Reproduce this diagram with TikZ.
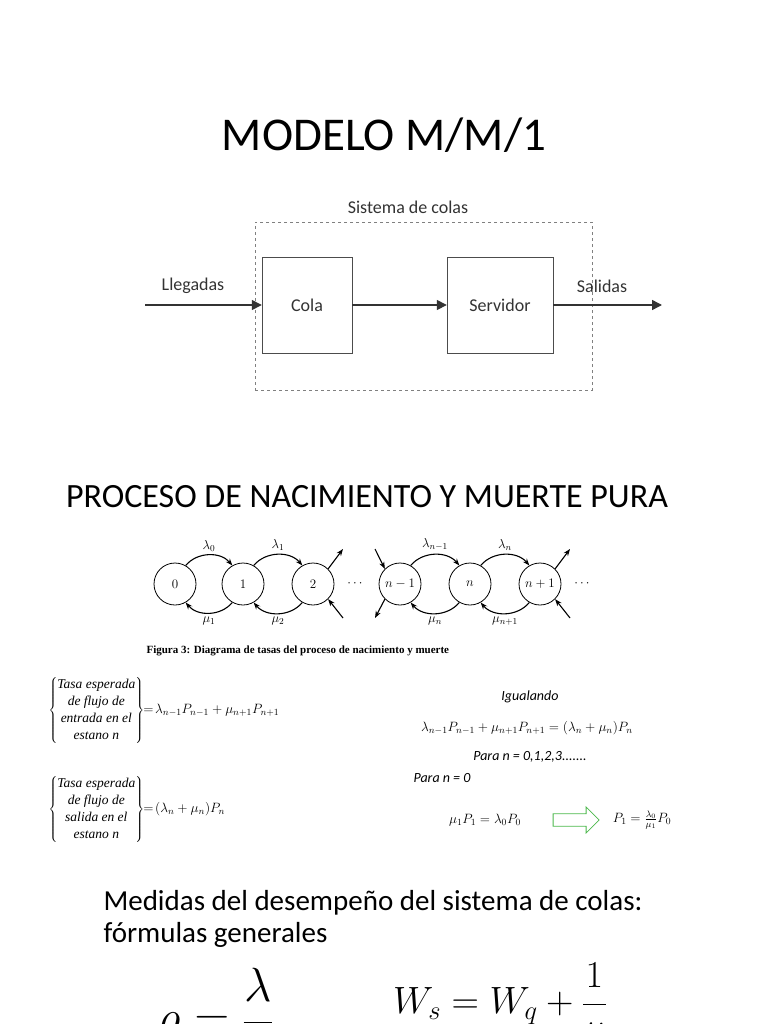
\RequirePackage{fix-cm}
\documentclass[tikz,border=0pt]{standalone}
\usepackage{fontspec}
\setmainfont{Carlito}
\newfontfamily\tnr{Liberation Serif}
\newcommand{\bt}[1]{\mbox{\tnr\itshape #1}}
\usetikzlibrary{arrows.meta,shapes.arrows}
\begin{document}
\begin{tikzpicture}[x=1pt,y=-1pt,
  blk/.style={draw=black!70,fill=white,minimum width=#1,minimum height=96pt,inner sep=0pt},
  flow/.style={-{Triangle[length=10pt,width=10pt]},line width=1.5pt,black!80},
  st/.style={circle,draw,line width=0.8pt,minimum size=42pt,inner sep=0pt,font=\fontsize{13}{15}\selectfont},
  arc/.style={-{Stealth[length=7pt]},line width=1.1pt},
  lbl/.style={font=\fontsize{13}{15}\selectfont},
  lab/.style={font=\fontsize{18}{20}\selectfont\color{black!80}},
  it/.style={font=\fontsize{14}{16}\selectfont\itshape},
  mth/.style={font=\fontsize{13.5}{18}\selectfont}]
\useasboundingbox (0,0) rectangle (768,1024);
\node (title) at (384,135) {\fontsize{47}{52}\selectfont MODELO M/M/1};
% queue system
\node[draw=black!50,dashed,minimum width=337pt,minimum height=168pt] (sys) at (423.5,306) {};
\node[lab] (syst) at (408,207) {Sistema de colas};
\node[blk=90pt,lab] (cola) at (307,305) {Cola};
\node[blk=106pt,lab] (serv) at (500,305) {Servidor};
\coordinate (in) at (145,305);
\coordinate (out) at (662,305);
\draw[flow] (in) -- (cola.west);
\draw[flow] (cola.east) -- (serv.west);
\draw[flow] (serv.east) -- (out);
\node[lab] (lleg) at (193,286) {Llegadas};
\node[lab] (sal) at (602,286) {Salidas};
% heading
\node (h2) at (367,497) {\fontsize{34}{38}\selectfont PROCESO DE NACIMIENTO Y MUERTE PURA};
% birth-death
\node[st] (s0) at (175,584) {$0$};
\node[st] (s1) at (243,584) {$1$};
\node[st] (s2) at (313,584) {$2$};
\node[lbl] (d1) at (355,584) {$\cdots$};
\node[st] (sn1) at (400,584) {$n-1$};
\node[st] (sn) at (470,584) {$n$};
\node[st] (sn2) at (540,584) {$n+1$};
\node[lbl] (d2) at (582,584) {$\cdots$};
\begin{scope}[every node/.style={lbl}]
\draw[arc] (s0.60) to[bend left=50] node[above] {$\lambda_0$} (s1.120);
\draw[arc] (s1.60) to[bend left=50] node[above] {$\lambda_1$} (s2.120);
\draw[arc] (sn1.60) to[bend left=50] node[above] {$\lambda_{n-1}$} (sn.120);
\draw[arc] (sn.60) to[bend left=50] node[above] {$\lambda_n$} (sn2.120);
\draw[arc] (s1.240) to[bend left=50] node[below] {$\mu_1$} (s0.300);
\draw[arc] (s2.240) to[bend left=50] node[below] {$\mu_2$} (s1.300);
\draw[arc] (sn.240) to[bend left=50] node[below] {$\mu_n$} (sn1.300);
\draw[arc] (sn2.240) to[bend left=50] node[below] {$\mu_{n+1}$} (sn.300);
\end{scope}
\coordinate (a1) at (343,549); \coordinate (a2) at (343,618);
\coordinate (a3) at (375,549); \coordinate (a4) at (375,618);
\coordinate (a5) at (570,549); \coordinate (a6) at (570,618);
\draw[arc] (s2.45) -- (a1);
\draw[arc] (a2) -- (s2.315);
\draw[arc] (a3) -- (sn1.135);
\draw[arc] (sn1.225) -- (a4);
\draw[arc] (sn2.45) -- (a5);
\draw[arc] (a6) -- (sn2.315);
\node[anchor=west,font=\tnr\bfseries\fontsize{11}{13}\selectfont] (cap) at (143,651) {Figura 3: Diagrama de tasas del proceso de nacimiento y muerte};
% equations left
\node[anchor=west,mth] (e1) at (45,710) {$\left\{\begin{array}{@{}c@{}}\bt{Tasa esperada}\\[-1pt]\bt{de flujo de}\\[-1pt]\bt{entrada en el}\\[-1pt]\bt{estano n}\end{array}\right\}\!\!=\!\lambda_{n-1}P_{n-1}+\mu_{n+1}P_{n+1}$};
\node[anchor=west,mth] (e2) at (45,809) {$\left\{\begin{array}{@{}c@{}}\bt{Tasa esperada}\\[-1pt]\bt{de flujo de}\\[-1pt]\bt{salida en el}\\[-1pt]\bt{estano n}\end{array}\right\}\!\!=\!(\lambda_n+\mu_n)P_n$};
% right
\node[it] (ig) at (530,697) {Igualando};
\node[mth] (eq) at (527,728) {$\lambda_{n-1}P_{n-1}+\mu_{n+1}P_{n+1}=(\lambda_n+\mu_n)P_n$};
\node[it] (pn) at (530,757) {Para n = 0,1,2,3.......};
\node[it] (p0) at (442,778) {Para n = 0};
\node[mth] (m1) at (485,820) {$\mu_1P_1=\lambda_0P_0$};
\node[single arrow,draw=green!60!black!70,fill=white,line width=0.8pt,minimum width=26pt,single arrow head extend=4pt,minimum height=46pt] (garr) at (573,820) {};
\node[mth] (p1) at (642,820) {$P_1=\frac{\lambda_0}{\mu_1}P_0$};
% bottom
\node[anchor=west] (med1) at (100,903) {\fontsize{29}{33}\selectfont Medidas del desempeño del sistema de colas:};
\node[anchor=west] (med2) at (100,935) {\fontsize{29}{33}\selectfont fórmulas generales};
\node (rho) at (215,1022) {\fontsize{48}{54}\selectfont$\displaystyle\rho=\frac{\lambda}{\mu}$};
\node (ws) at (500,1005) {\fontsize{38}{42}\selectfont$\displaystyle W_s=W_q+\frac{1}{\mu}$};
\end{tikzpicture}
\end{document}
